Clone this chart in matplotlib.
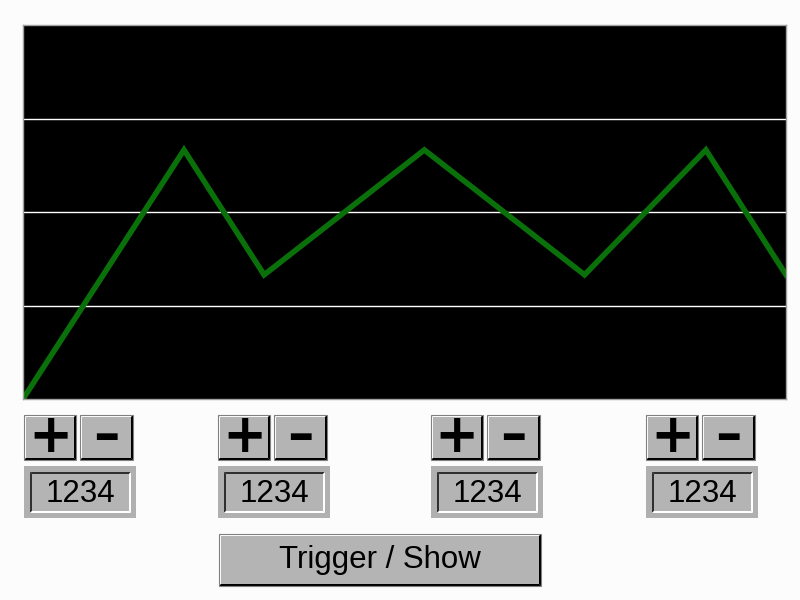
import matplotlib.pyplot as plt
from matplotlib.patches import Polygon, Rectangle

# trace values (x in percent of the width, y in percent of the height)
x_vals = [0, 21.1, 31.6, 52.6, 73.6, 89.5, 100]
y_vals = [0, 66.6, 33.2, 66.6, 33.2, 66.6, 33.2]
grid_levels = [25, 50, 75]

# controls under the trace
control_lefts = [24, 218, 431, 646]
control_values = ["1234", "1234", "1234", "1234"]
plus_label = "+"
minus_label = "\u2013"
trigger_label = "Trigger / Show"

FACE = "#b4b4b4"
BG = "#fcfcfc"


def bevel(ax, x0, y0, x1, y1, tl, br, w):
    ax.add_patch(Polygon([(x0, y0), (x1, y0), (x1 - w, y0 + w), (x0 + w, y0 + w)], closed=True, fc=tl, lw=0))
    ax.add_patch(Polygon([(x0, y0), (x0 + w, y0 + w), (x0 + w, y1 - w), (x0, y1)], closed=True, fc=tl, lw=0))
    ax.add_patch(Polygon([(x0, y1), (x1, y1), (x1 - w, y1 - w), (x0 + w, y1 - w)], closed=True, fc=br, lw=0))
    ax.add_patch(Polygon([(x1, y0), (x1, y1), (x1 - w, y1 - w), (x1 - w, y0 + w)], closed=True, fc=br, lw=0))


def button(ax, x0, y0, x1, y1, label, size, weight="normal", dy=0, family="Liberation Sans"):
    ax.add_patch(Rectangle((x0, y0), x1 - x0, y1 - y0, fc=FACE, lw=0))
    bevel(ax, x0, y0, x1, y1, "#ffffff", "#000000", 2)
    ax.add_patch(Rectangle((x0, y0), x1 - x0, y1 - y0, fc="none", ec="#808080", lw=0.8))
    ax.text((x0 + x1) / 2, (y0 + y1) / 2 + dy, label, ha="center", va="center",
            fontsize=size, fontweight=weight, family=[family, "DejaVu Sans"], color="black")


def value_box(ax, x0, y0, x1, y1, label):
    ax.add_patch(Rectangle((x0, y0), x1 - x0, y1 - y0, fc="#b0b0b0", lw=0))
    ix0, iy0, ix1, iy1 = x0 + 6, y0 + 6, x1 - 5, y1 - 5
    ax.add_patch(Rectangle((ix0, iy0), ix1 - ix0, iy1 - iy0, fc=FACE, lw=0))
    bevel(ax, ix0, iy0, ix1, iy1, "#303030", "#ffffff", 2)
    ax.text((ix0 + ix1) / 2, (iy0 + iy1) / 2 + 2, label, ha="center", va="center",
            fontsize=22.5, family=["Liberation Sans", "DejaVu Sans"], color="black")


fig = plt.figure(figsize=(8, 6), dpi=100, facecolor=BG)

ax = fig.add_axes([23 / 800, 1 - 399 / 600, 763 / 800, 374 / 600])
ax.set_facecolor("black")
ax.set_xlim(0, 100)
ax.set_ylim(0, 100)
for lvl in grid_levels:
    ax.axhline(lvl, color="white", lw=1)
ax.plot(x_vals, y_vals, color="#0a700a", lw=4, solid_joinstyle="miter")
ax.set_xticks([])
ax.set_yticks([])
for s in ax.spines.values():
    s.set_color("#a0a0a0")
    s.set_linewidth(1)

ui = fig.add_axes([0, 0, 1, 1])
ui.set_xlim(0, 800)
ui.set_ylim(600, 0)
ui.axis("off")

for left, val in zip(control_lefts, control_values):
    button(ui, left, 415, left + 52, 460, plus_label, 38, "bold", dy=0, family="DejaVu Sans")
    button(ui, left + 56, 415, left + 109, 460, minus_label, 38, "bold", dy=-1, family="DejaVu Sans")
    value_box(ui, left, 466, left + 112, 518, val)

button(ui, 219, 534, 541, 586, trigger_label, 22.5, dy=0)

fig.savefig("out.png", dpi=100, facecolor=BG)
